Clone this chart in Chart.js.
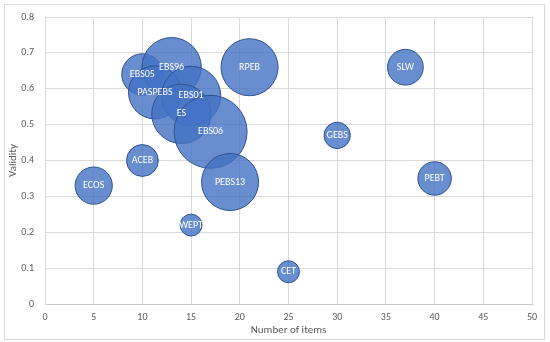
<!DOCTYPE html>
<html><head><meta charset="utf-8">
<script src="https://cdn.jsdelivr.net/npm/chart.js@4.4.1/dist/chart.umd.min.js"></script>
<style>html,body{margin:0;padding:0;background:#fff}canvas{display:block}</style>
</head><body>
<canvas id="c" width="550" height="342"></canvas>
<script>
// ---- data ----
const scaleNames = ['ECOS','ACEB','EBS05','EBS96','PASPEBS','EBS01','ES','EBS06','RPEB','PEBS13','WEPT','CET','GEBS','PEBT','SLW'];
const numberOfItems = [5, 10, 10, 13, 11.3, 15, 14, 17, 21, 19, 15, 25, 30, 40, 37];
const validity = [0.33, 0.40, 0.64, 0.66, 0.59, 0.58, 0.53, 0.48, 0.66, 0.34, 0.22, 0.09, 0.47, 0.35, 0.66];
const bubbleSize = [26, 19, 32, 66, 53, 66, 66, 100, 61, 61, 9, 9, 13, 21, 24];
const xTicks = [0, 5, 10, 15, 20, 25, 30, 35, 40, 45, 50];
const yTicks = [0, 0.1, 0.2, 0.3, 0.4, 0.5, 0.6, 0.7, 0.8];

const FONT = 'Carlito, Calibri, Lato, sans-serif';
const MAX_BUBBLE_RADIUS = 36.5;   // style: radius of the largest bubble, px
const maxSize = Math.max(...bubbleSize);

const points = numberOfItems.map((x, i) => ({ x: x, y: validity[i] }));

const framePlugin = {
  id: 'frame',
  beforeDraw(chart) {
    const c = chart.ctx;
    c.save();
    c.fillStyle = '#ffffff';
    c.fillRect(0, 0, chart.width, chart.height);
    c.strokeStyle = '#d9d9d9';
    c.lineWidth = 1;
    c.strokeRect(4.5, 4.5, 540, 335);
    c.restore();
  }
};

const labelPlugin = {
  id: 'bubbleLabels',
  afterDatasetsDraw(chart) {
    const c = chart.ctx;
    const meta = chart.getDatasetMeta(0);
    c.save();
    c.font = '10px ' + FONT;
    c.fillStyle = '#ffffff';
    c.textAlign = 'center';
    c.textBaseline = 'middle';
    meta.data.forEach((el, i) => c.fillText(scaleNames[i], el.x, el.y));
    c.restore();
  }
};

new Chart(document.getElementById('c'), {
  type: 'bubble',
  data: {
    datasets: [{
      data: points,
      backgroundColor: 'rgba(68,114,196,0.8)',
      borderColor: '#2f528f',
      borderWidth: 1,
      radius: (ctx) => MAX_BUBBLE_RADIUS * Math.sqrt(bubbleSize[ctx.dataIndex] / maxSize)
    }]
  },
  options: {
    responsive: false,
    animation: false,
    events: [],
    devicePixelRatio: 1,
    layout: { autoPadding: false, padding: { left: 0, right: 18, top: 14, bottom: 0 } },
    plugins: { legend: { display: false }, tooltip: { enabled: false } },
    scales: {
      x: {
        type: 'linear', min: 0, max: 50,
        afterBuildTicks: (s) => { s.ticks = xTicks.map(v => ({ value: v })); },
        afterFit: (s) => { s.height = 38; },
        grid: { color: '#d9d9d9', drawTicks: false },
        border: { color: '#c8c8c8' },
        ticks: { color: '#595959', font: { family: FONT, size: 10 }, padding: 7, maxRotation: 0 },
        title: { display: true, text: 'Number of items', color: '#595959', font: { family: FONT, size: 11 }, padding: { top: 0, bottom: 5 } }
      },
      y: {
        type: 'linear', min: 0, max: 0.8,
        afterBuildTicks: (s) => { s.ticks = yTicks.map(v => ({ value: v })); },
        afterFit: (s) => { s.width = 45; },
        grid: { color: '#d9d9d9', drawTicks: false },
        border: { color: '#d9d9d9' },
        ticks: { color: '#595959', font: { family: FONT, size: 10 }, padding: 11, callback: (v) => String(v) },
        title: { display: true, text: 'Validity', color: '#595959', font: { family: FONT, size: 11 }, padding: { top: 7, bottom: 0 } }
      }
    }
  },
  plugins: [framePlugin, labelPlugin]
});
</script>
</body></html>
